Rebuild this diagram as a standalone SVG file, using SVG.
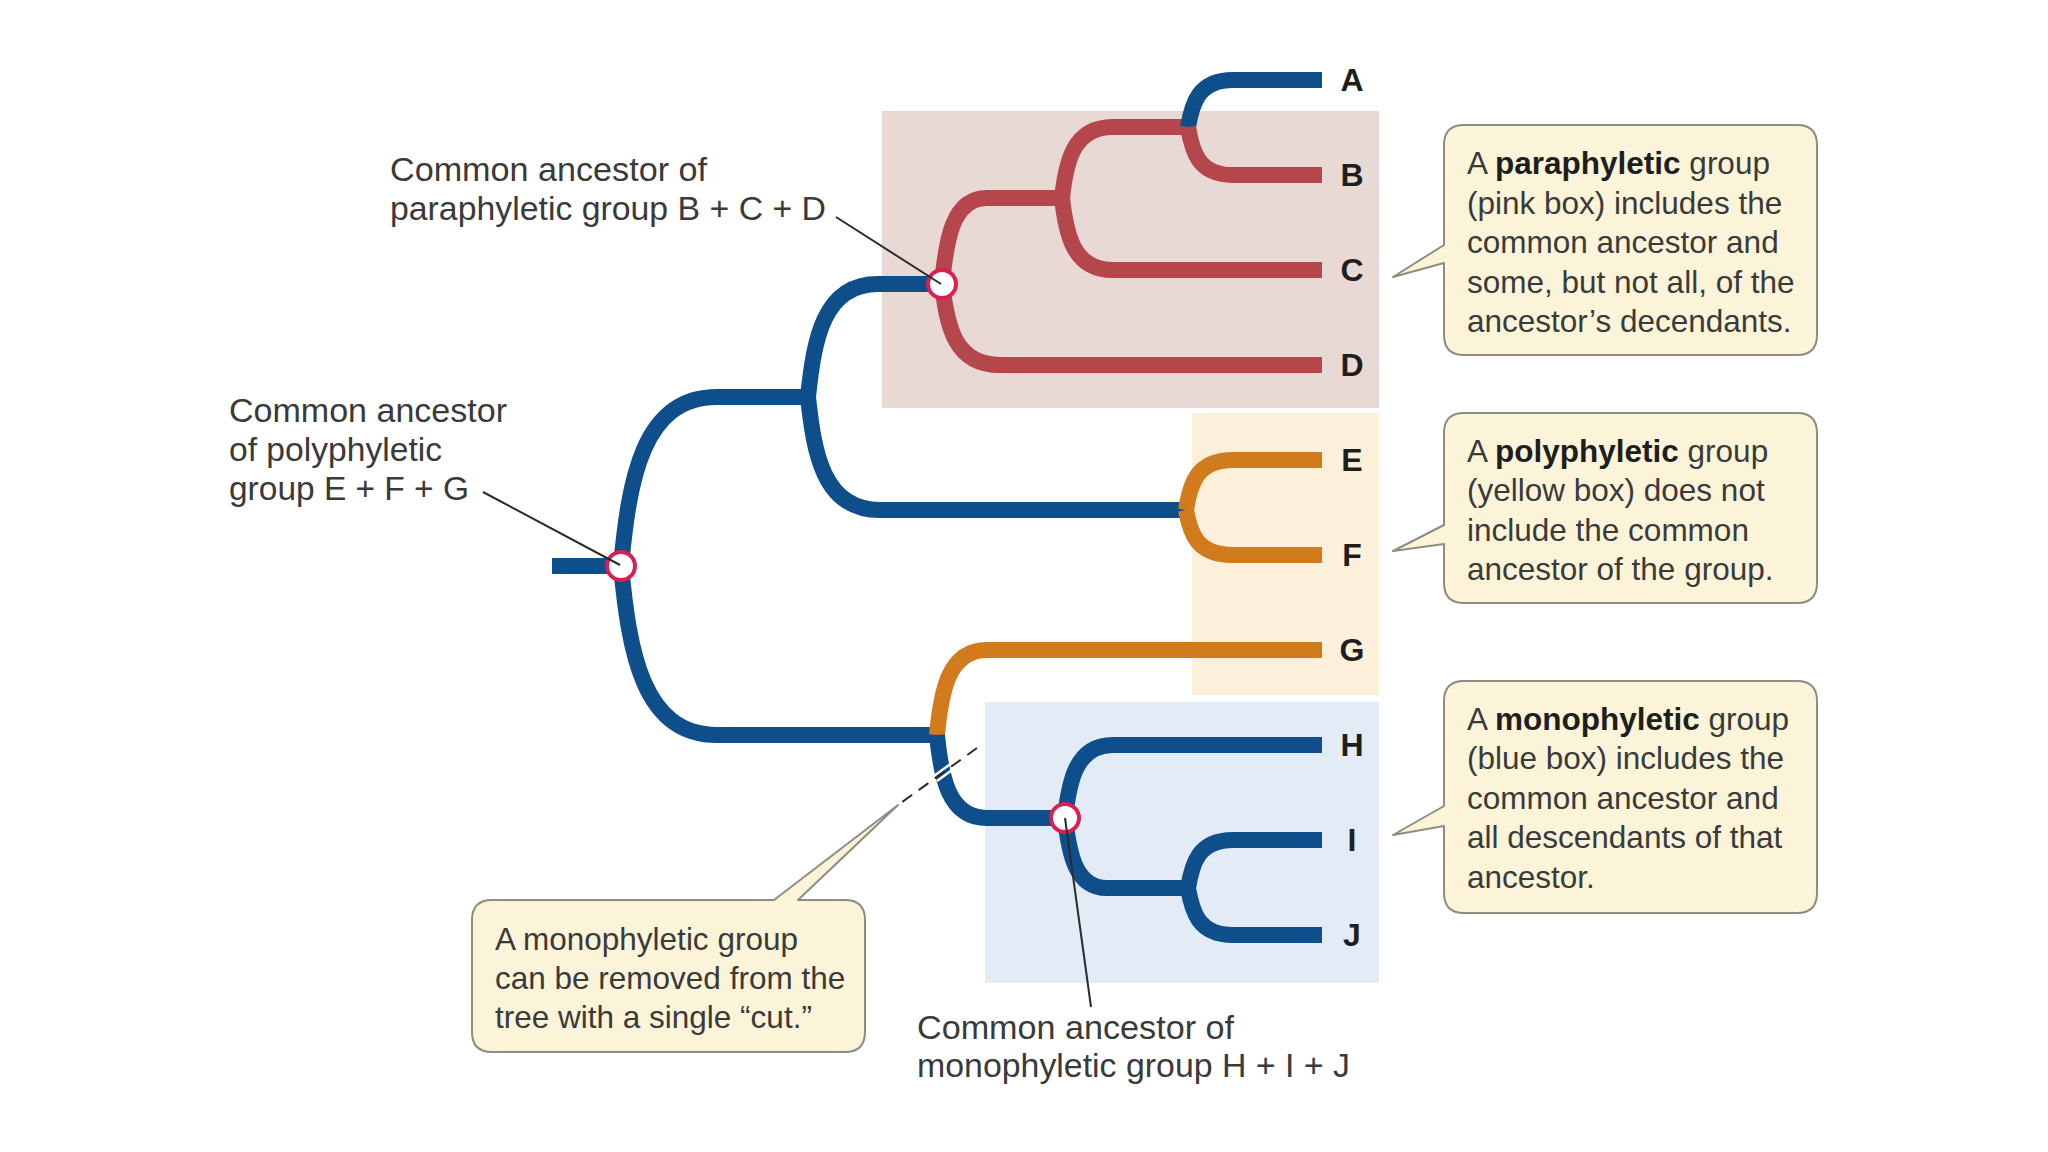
<svg xmlns="http://www.w3.org/2000/svg" width="2048" height="1152" viewBox="0 0 2048 1152">
<style>
.br{fill:none;stroke-width:16;stroke-linecap:butt;stroke-linejoin:round}
.bl{stroke:#0d4e8b}
.rd{stroke:#b5464b}
.or{stroke:#d27b1c}
.node{fill:#ffffff;stroke:#db1f52;stroke-width:4}
.lead{fill:none;stroke:#2b2b2b;stroke-width:2}
.txt{font-family:"Liberation Sans",Arial,sans-serif;font-size:31.5px;fill:#3a3a3a}
.lbl{font-family:"Liberation Sans",Arial,sans-serif;font-size:33px;fill:#3a3a3a}
.b{font-weight:bold;fill:#1e1e1e}
.tip{font-family:"Liberation Sans",Arial,sans-serif;font-size:32px;font-weight:bold;fill:#1e1e1e;text-anchor:middle}
.call{fill:#fcf4d8;stroke:#8e8d80;stroke-width:2;stroke-linejoin:round}
</style>
<rect width="2048" height="1152" fill="#ffffff"/>
<g id="group-boxes">
<rect id="pink-box" x="882" y="111" width="497" height="297" fill="#e8d9d5"/>
<rect id="yellow-box" x="1192" y="413" width="187" height="282" fill="#fdf0da"/>
<rect id="blue-box" x="985" y="702" width="394" height="281" fill="#e3ecf6"/>
</g>
<g id="connectors">
<path class="br bl" d="M552 566 L621 566"/>
<path class="br bl" d="M621 566 C629 481 642 397 717 397 L809 397"/>
<path class="br bl" d="M621 566 C629 650 642 735 717 735 L938 735"/>
<path class="br bl" d="M808 397 C814 340 823 284 878 284 L942 284"/>
<path class="br bl" d="M808 397 C814 453 823 510 880 510 L1187 510"/>
<path class="br or" d="M1186 510 C1190 485 1196 460 1233 460 L1322 460"/>
<path class="br or" d="M1186 510 C1190 532 1196 555 1233 555 L1322 555"/>
<path class="br rd" d="M942 284 C946 241 952 198 987 198 L1063 198"/>
<path class="br rd" d="M942 284 C947 325 954 365 1000 365 L1322 365"/>
<path class="br rd" d="M1062 198 C1066 162 1073 127 1113 127 L1189 127"/>
<path class="br rd" d="M1062 198 C1066 234 1073 270 1113 270 L1322 270"/>
<path class="br bl" d="M1188 127 C1192 104 1198 80 1233 80 L1322 80"/>
<path class="br rd" d="M1188 127 C1192 151 1198 175 1233 175 L1322 175"/>
<path class="br or" d="M937 735 C941 692 948 650 987 650 L1322 650"/>
<path class="br bl" d="M937 735 C941 776 948 818 987 818 L1065 818"/>
<path class="br bl" d="M1065 818 C1069 781 1076 745 1113 745 L1322 745"/>
<path class="br bl" d="M1065 818 C1069 853 1075 888 1107 888 L1189 888"/>
<path class="br bl" d="M1188 888 C1192 864 1198 840 1233 840 L1322 840"/>
<path class="br bl" d="M1188 888 C1192 911 1198 935 1233 935 L1322 935"/>
<path d="M934 776 L960 757" stroke="#ffffff" stroke-width="2.5"/>
<path d="M937 781 L963 762" stroke="#ffffff" stroke-width="2.5"/>
<path d="M977 748 L898 805" fill="none" stroke="#2b2b2b" stroke-width="2" stroke-dasharray="12 8"/>
</g>
<g id="node-root"><circle class="node" cx="621" cy="566" r="14"/></g>
<g id="node-para"><circle class="node" cx="942" cy="284" r="14"/></g>
<g id="node-mono"><circle class="node" cx="1065" cy="818" r="14"/></g>
<g id="leaders">
<path class="lead" d="M836 217 L941 284"/>
<path class="lead" d="M483 492 L620 565"/>
<path class="lead" d="M1065 818 L1091 1007"/>
</g>
<g id="tip-labels">
<text class="tip" x="1352" y="91">A</text>
<text class="tip" x="1352" y="186">B</text>
<text class="tip" x="1352" y="281">C</text>
<text class="tip" x="1352" y="376">D</text>
<text class="tip" x="1352" y="471">E</text>
<text class="tip" x="1352" y="566">F</text>
<text class="tip" x="1352" y="661">G</text>
<text class="tip" x="1352" y="756">H</text>
<text class="tip" x="1352" y="851">I</text>
<text class="tip" x="1352" y="946">J</text>
</g>
<g id="label-para-ancestor">
<text class="lbl" x="390" y="181" textLength="317" lengthAdjust="spacingAndGlyphs">Common ancestor of</text>
<text class="lbl" x="390" y="220" textLength="436" lengthAdjust="spacingAndGlyphs">paraphyletic group B + C + D</text>
</g>
<g id="label-poly-ancestor">
<text class="lbl" x="229" y="422" textLength="278" lengthAdjust="spacingAndGlyphs">Common ancestor</text>
<text class="lbl" x="229" y="461" textLength="213" lengthAdjust="spacingAndGlyphs">of polyphyletic</text>
<text class="lbl" x="229" y="500" textLength="240" lengthAdjust="spacingAndGlyphs">group E + F + G</text>
</g>
<g id="label-mono-ancestor">
<text class="lbl" x="917" y="1039" textLength="317" lengthAdjust="spacingAndGlyphs">Common ancestor of</text>
<text class="lbl" x="917" y="1077" textLength="433" lengthAdjust="spacingAndGlyphs">monophyletic group H + I + J</text>
</g>
<g id="callout-para">
<path class="call" d="M1464 125 L1797 125 Q1817 125 1817 145 L1817 335 Q1817 355 1797 355 L1464 355 Q1444 355 1444 335 L1444 263 L1393 277 L1444 245 L1444 145 Q1444 125 1464 125 Z"/>
<text class="txt" x="1467" y="174">A <tspan class="b">paraphyletic</tspan> group</text>
<text class="txt" x="1467" y="214">(pink box) includes the</text>
<text class="txt" x="1467" y="253">common ancestor and</text>
<text class="txt" x="1467" y="293">some, but not all, of the</text>
<text class="txt" x="1467" y="332">ancestor’s decendants.</text>
</g>
<g id="callout-poly">
<path class="call" d="M1464 413 L1797 413 Q1817 413 1817 433 L1817 583 Q1817 603 1797 603 L1464 603 Q1444 603 1444 583 L1444 544 L1393 551 L1444 525 L1444 433 Q1444 413 1464 413 Z"/>
<text class="txt" x="1467" y="462">A <tspan class="b">polyphyletic</tspan> group</text>
<text class="txt" x="1467" y="501">(yellow box) does not</text>
<text class="txt" x="1467" y="541">include the common</text>
<text class="txt" x="1467" y="580">ancestor of the group.</text>
</g>
<g id="callout-mono">
<path class="call" d="M1464 681 L1797 681 Q1817 681 1817 701 L1817 893 Q1817 913 1797 913 L1464 913 Q1444 913 1444 893 L1444 826 L1393 835 L1444 806 L1444 701 Q1444 681 1464 681 Z"/>
<text class="txt" x="1467" y="730">A <tspan class="b">monophyletic</tspan> group</text>
<text class="txt" x="1467" y="769">(blue box) includes the</text>
<text class="txt" x="1467" y="809">common ancestor and</text>
<text class="txt" x="1467" y="848">all descendants of that</text>
<text class="txt" x="1467" y="888">ancestor.</text>
</g>
<g id="callout-cut">
<path class="call" d="M492 900 L774 900 L898 805 L798 900 L845 900 Q865 900 865 920 L865 1032 Q865 1052 845 1052 L492 1052 Q472 1052 472 1032 L472 920 Q472 900 492 900 Z"/>
<text class="txt" x="495" y="950">A monophyletic group</text>
<text class="txt" x="495" y="989">can be removed from the</text>
<text class="txt" x="495" y="1028">tree with a single “cut.”</text>
</g>
</svg>
